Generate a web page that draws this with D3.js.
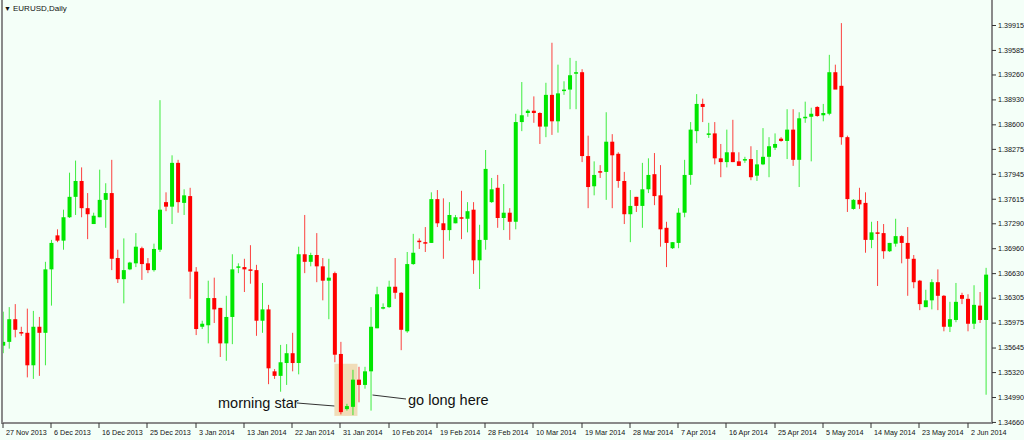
<!DOCTYPE html>
<html>
<head>
<meta charset="utf-8">
<script src="https://cdn.jsdelivr.net/npm/d3@7"></script>
<style>
  body { margin: 0; background: #f4fff8; }
  svg { display: block; font-family: "Liberation Sans", Arial, sans-serif; }
</style>
</head>
<body>
<svg id="chart" width="1024" height="440"></svg>
<script>
// daily candles, [open, high, low, close]
const opens = [1.3567,1.3572,1.3602,1.3585,1.3584,1.3541,1.3592,1.3584,1.3668,1.3713,1.3706,1.3737,1.3764,1.3785,1.3749,1.3728,1.3737,1.3760,1.3769,1.3683,
  1.3655,1.3668,1.3676,1.3696,1.3676,1.3667,1.3694,1.3757,1.3751,1.3809,1.3756,1.3765,1.3665,1.3592,1.3594,1.3630,1.3617,1.3570,1.3605,1.3671,
  1.3671,1.3668,1.3667,1.3600,1.3615,1.3533,1.3527,1.3544,1.3557,1.3544,1.3688,1.3678,1.3687,1.3672,1.3653,1.3663,1.3556,1.3483,1.3486,1.3522,
  1.3515,1.3533,1.3590,1.3617,1.3618,1.3645,1.3637,1.3586,1.3675,1.3706,1.3704,1.3703,1.3761,1.3729,1.3720,1.3729,1.3737,1.3735,1.3747,1.3680,
  1.3707,1.3757,1.3776,1.3736,1.3743,1.3731,1.3863,1.3875,1.3878,1.3875,1.3857,1.3899,1.3864,1.3904,1.3906,1.3927,1.3929,1.3818,1.3778,1.3798,
  1.3797,1.3837,1.3821,1.3785,1.3741,1.3764,1.3752,1.3774,1.3794,1.3766,1.3723,1.3696,1.3703,1.3743,1.3793,1.3851,1.3887,1.3846,1.3848,1.3815,
  1.3810,1.3823,1.3811,1.3813,1.3814,1.3792,1.3807,1.3817,1.3829,1.3841,1.3838,1.3853,1.3813,1.3868,1.3870,1.3883,1.3872,1.3874,1.3929,1.3911,
  1.3843,1.3748,1.3760,1.3756,1.3707,1.3717,1.3716,1.3692,1.3702,1.3712,1.3703,1.3682,1.3653,1.3618,1.3627,1.3651,1.3633,1.3592,1.3601,1.3634,
  1.3629,1.3596,1.3620,1.3601];
const highs = [1.3612,1.3618,1.3622,1.3592,1.3616,1.3613,1.3605,1.3678,1.3707,1.3721,1.3747,1.3796,1.3812,1.3803,1.3769,1.3743,1.3800,1.3782,1.3813,1.3694,
  1.3709,1.3678,1.3716,1.3698,1.3683,1.3702,1.3892,1.3770,1.3819,1.3813,1.3774,1.3776,1.3671,1.3600,1.3653,1.3657,1.3617,1.3633,1.3688,1.3676,
  1.3682,1.3700,1.3674,1.3650,1.3621,1.3536,1.3568,1.3569,1.3584,1.3698,1.3740,1.3690,1.3716,1.3683,1.3682,1.3665,1.3572,1.3490,1.3535,1.3539,
  1.3539,1.3618,1.3645,1.3623,1.3653,1.3683,1.3638,1.3691,1.3715,1.3709,1.3724,1.3770,1.3773,1.3762,1.3757,1.3740,1.3772,1.3757,1.3757,1.3727,
  1.3826,1.3789,1.3793,1.3781,1.3749,1.3874,1.3916,1.3880,1.3897,1.3876,1.3915,1.3968,1.3939,1.3917,1.3948,1.3944,1.3933,1.3845,1.3811,1.3806,
  1.3876,1.3847,1.3823,1.3797,1.3773,1.3764,1.3809,1.3815,1.3822,1.3806,1.3731,1.3704,1.3749,1.3813,1.3863,1.3900,1.3894,1.3862,1.3863,1.3834,
  1.3853,1.3866,1.3823,1.3817,1.3831,1.3826,1.3855,1.3843,1.3848,1.3843,1.3880,1.3880,1.3876,1.3890,1.3882,1.3884,1.3887,1.3952,1.3939,1.3994,
  1.3845,1.3761,1.3776,1.3770,1.3731,1.3732,1.3728,1.3703,1.3735,1.3713,1.3724,1.3687,1.3654,1.3641,1.3655,1.3668,1.3634,1.3625,1.3650,1.3637,
  1.3635,1.3647,1.3638,1.3670];
const lows = [1.3557,1.3563,1.3578,1.3580,1.3525,1.3523,1.3527,1.3541,1.3620,1.3704,1.3694,1.3736,1.3740,1.3737,1.3708,1.3728,1.3737,1.3723,1.3667,1.3650,
  1.3623,1.3667,1.3671,1.3654,1.3663,1.3665,1.3691,1.3745,1.3728,1.3743,1.3740,1.3629,1.3581,1.3589,1.3570,1.3597,1.3552,1.3547,1.3569,1.3663,
  1.3638,1.3649,1.3580,1.3584,1.3516,1.3523,1.3506,1.3515,1.3533,1.3529,1.3663,1.3672,1.3651,1.3627,1.3602,1.3545,1.3476,1.3481,1.3475,1.3492,
  1.3510,1.3481,1.3590,1.3615,1.3617,1.3629,1.3561,1.3584,1.3674,1.3695,1.3691,1.3703,1.3724,1.3682,1.3706,1.3729,1.3708,1.3717,1.3662,1.3642,
  1.3694,1.3756,1.3723,1.3720,1.3707,1.3721,1.3851,1.3870,1.3862,1.3834,1.3843,1.3846,1.3849,1.3899,1.3880,1.3880,1.3810,1.3749,1.3766,1.3789,
  1.3760,1.3749,1.3776,1.3728,1.3704,1.3744,1.3723,1.3769,1.3753,1.3698,1.3671,1.3695,1.3696,1.3737,1.3780,1.3835,1.3863,1.3842,1.3807,1.3790,
  1.3803,1.3810,1.3805,1.3809,1.3786,1.3785,1.3806,1.3790,1.3826,1.3837,1.3814,1.3805,1.3777,1.3862,1.3811,1.3870,1.3864,1.3872,1.3908,1.3833,
  1.3744,1.3747,1.3748,1.3690,1.3696,1.3646,1.3682,1.3691,1.3698,1.3676,1.3633,1.3643,1.3614,1.3618,1.3615,1.3614,1.3586,1.3585,1.3598,1.3622,
  1.3586,1.3589,1.3597,1.3502];
const closes = [1.3572,1.3602,1.3588,1.3584,1.3541,1.3592,1.3584,1.3668,1.3703,1.3706,1.3737,1.3764,1.3785,1.3749,1.3741,1.3739,1.3760,1.3769,1.3682,1.3655,
  1.3667,1.3677,1.3698,1.3675,1.3667,1.3695,1.3747,1.3751,1.3809,1.3757,1.3766,1.3665,1.3589,1.3596,1.3630,1.3615,1.3570,1.3605,1.3668,1.3672,
  1.3668,1.3667,1.3600,1.3615,1.3537,1.3527,1.3545,1.3557,1.3544,1.3688,1.3678,1.3687,1.3672,1.3653,1.3657,1.3555,1.3479,1.3487,1.3522,1.3515,
  1.3533,1.3592,1.3635,1.3618,1.3645,1.3637,1.3588,1.3675,1.3690,1.3704,1.3703,1.3761,1.3729,1.3720,1.3740,1.3737,1.3735,1.3745,1.3680,1.3707,
  1.3801,1.3774,1.3736,1.3743,1.3731,1.3863,1.3872,1.3878,1.3875,1.3857,1.3899,1.3864,1.3901,1.3906,1.3925,1.3929,1.3818,1.3777,1.3793,1.3796,
  1.3837,1.3819,1.3785,1.3741,1.3752,1.3752,1.3774,1.3793,1.3765,1.3721,1.3703,1.3704,1.3743,1.3793,1.3853,1.3887,1.3883,1.3848,1.3815,1.3810,
  1.3823,1.3810,1.3805,1.3814,1.3790,1.3807,1.3817,1.3831,1.3834,1.3838,1.3853,1.3813,1.3868,1.3870,1.3874,1.3871,1.3875,1.3929,1.3906,1.3843,
  1.3761,1.3760,1.3754,1.3707,1.3717,1.3716,1.3692,1.3703,1.3712,1.3703,1.3682,1.3651,1.3622,1.3627,1.3651,1.3633,1.3592,1.3602,1.3625,1.3629,
  1.3596,1.3621,1.3601,1.3661];

// price axis labels and date labels (one every 8 candles)
const priceTicks = [1.39915,1.39585,1.39260,1.38930,1.38600,1.38275,1.37945,1.37615,1.37290,1.36960,1.36630,1.36305,1.35975,1.35645,1.35320,1.34990,1.34660];
const dateLabels = ['27 Nov 2013','6 Dec 2013','16 Dec 2013','25 Dec 2013','3 Jan 2014','13 Jan 2014','22 Jan 2014','31 Jan 2014','10 Feb 2014','19 Feb 2014',
  '28 Feb 2014','10 Mar 2014','19 Mar 2014','28 Mar 2014','7 Apr 2014','16 Apr 2014','25 Apr 2014','5 May 2014','14 May 2014','23 May 2014','2 Jun 2014'];
const labelStep = 8;

const candles = opens.map((o, i) => ({ i, o, h: highs[i], l: lows[i], c: closes[i] }));

const plotRight = 992, plotBottom = 423;
const bull = '#00e600', bear = '#ff0000';

const svg = d3.select('#chart');

const x = d3.scaleBand()
  .domain(d3.range(candles.length))
  .range([-0.3, -0.3 + candles.length * 6.03]);
const xc = i => x(i) + x.bandwidth() / 2;

const y = d3.scaleLinear()
  .domain([1.34646, 1.40246])
  .range([plotBottom, 0]);

svg.append('defs').append('clipPath').attr('id', 'plot')
  .append('rect').attr('x', 2).attr('y', 0).attr('width', plotRight - 2).attr('height', plotBottom);

// annotation box behind the morning star
svg.append('rect')
  .attr('x', x(56) - 3).attr('y', y(1.3543))
  .attr('width', xc(58) - x(56) + 8).attr('height', y(1.3474) - y(1.3543))
  .attr('fill', '#efd7ad').attr('opacity', 0.85);

const g = svg.append('g').attr('clip-path', 'url(#plot)');

const cg = g.selectAll('g.candle')
  .data(candles)
  .join('g')
  .attr('class', 'candle');

cg.append('line')
  .attr('x1', d => xc(d.i) + 0.5).attr('x2', d => xc(d.i) + 0.5)
  .attr('y1', d => y(d.h)).attr('y2', d => y(d.l))
  .attr('stroke', d => d.c >= d.o ? bull : bear)
  .attr('stroke-opacity', 0.75)
  .attr('stroke-width', 1);

cg.append('rect')
  .attr('x', d => xc(d.i) - 1.5)
  .attr('width', 4)
  .attr('y', d => y(Math.max(d.o, d.c)))
  .attr('height', d => Math.max(1.5, Math.abs(y(d.o) - y(d.c))))
  .attr('fill', d => d.c >= d.o ? bull : bear);

// frame
svg.append('line').attr('x1', 2).attr('x2', 2).attr('y1', 0).attr('y2', plotBottom)
  .attr('stroke', '#8a8a8a').attr('stroke-width', 2);
svg.append('line').attr('x1', plotRight).attr('x2', plotRight).attr('y1', 0).attr('y2', plotBottom + 1)
  .attr('stroke', '#8a8a8a').attr('stroke-width', 2);
svg.append('line').attr('x1', 1).attr('x2', plotRight + 1).attr('y1', plotBottom).attr('y2', plotBottom)
  .attr('stroke', '#8a8a8a').attr('stroke-width', 2);

// right price axis
const ya = svg.append('g')
  .attr('transform', `translate(${plotRight},0)`)
  .call(d3.axisRight(y).tickValues(priceTicks).tickSize(4).tickPadding(2).tickFormat(d3.format('.5f')));
ya.select('.domain').remove();
ya.selectAll('line').attr('stroke', '#333');
ya.selectAll('text').attr('font-size', 7.2).attr('fill', '#111');

// bottom date axis
const dg = svg.append('g');
dateLabels.forEach((lab, k) => {
  const px = Math.round(xc(k * labelStep));
  dg.append('line').attr('x1', px).attr('x2', px).attr('y1', plotBottom).attr('y2', plotBottom + 5)
    .attr('stroke', '#333');
  dg.append('text').attr('x', px + 3).attr('y', plotBottom + 12)
    .attr('font-size', 7.2).attr('fill', '#111').text(lab);
});

// title
svg.append('text').attr('x', 4).attr('y', 11).attr('font-size', 7).attr('fill', '#111').text('▼');
svg.append('text').attr('x', 13).attr('y', 11).attr('font-size', 8).attr('fill', '#111').text('EURUSD,Daily');

// annotations
const notes = svg.append('g').attr('font-size', 14.5).attr('fill', '#111');
notes.append('text').attr('x', 218).attr('y', 408).text('morning star');
notes.append('line').attr('x1', 297).attr('y1', 403).attr('x2', x(56) - 3).attr('y2', 406)
  .attr('stroke', '#333');
notes.append('text').attr('x', 408).attr('y', 405).text('go long here');
notes.append('line').attr('x1', xc(61) + 2).attr('y1', 395).attr('x2', 406).attr('y2', 399)
  .attr('stroke', '#333');
</script>
</body>
</html>
